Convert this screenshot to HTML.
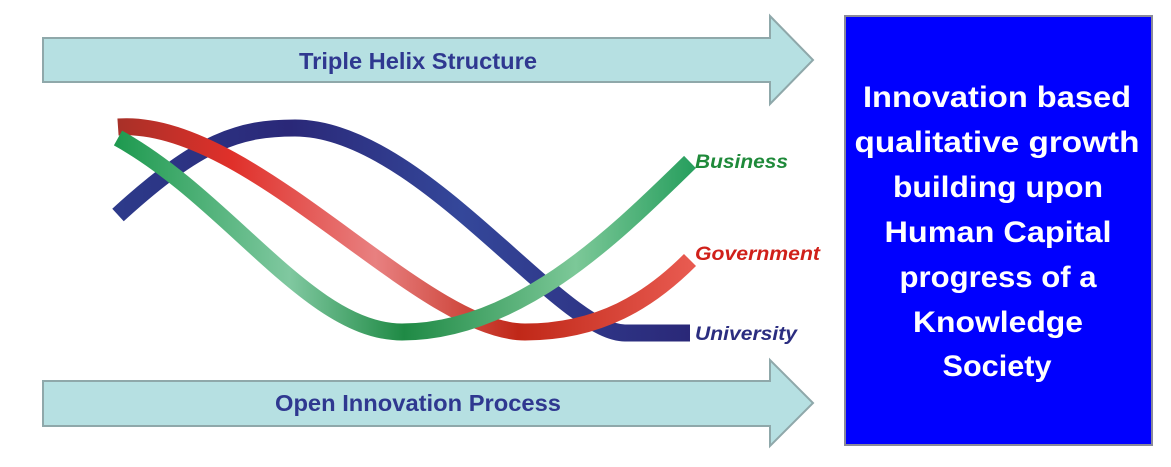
<!DOCTYPE html>
<html><head><style>
html,body{margin:0;padding:0;background:#fff;width:1171px;height:467px;overflow:hidden;font-family:"Liberation Sans",sans-serif}
</style></head><body>
<svg width="1171" height="467" viewBox="0 0 1171 467" xmlns="http://www.w3.org/2000/svg">
<defs>
<linearGradient id="gB" gradientUnits="userSpaceOnUse" x1="118" y1="0" x2="690" y2="0"><stop offset="0" stop-color="#2d3a8a"/><stop offset="0.3" stop-color="#2a2878"/><stop offset="0.6" stop-color="#34479a"/><stop offset="1" stop-color="#2a2878"/></linearGradient>
<linearGradient id="gR" gradientUnits="userSpaceOnUse" x1="118" y1="0" x2="690" y2="0"><stop offset="0" stop-color="#a83028"/><stop offset="0.2" stop-color="#e0302a"/><stop offset="0.45" stop-color="#e88080"/><stop offset="0.7" stop-color="#c02818"/><stop offset="1" stop-color="#e85a50"/></linearGradient>
<linearGradient id="gG" gradientUnits="userSpaceOnUse" x1="118" y1="0" x2="690" y2="0"><stop offset="0" stop-color="#1f9a50"/><stop offset="0.3" stop-color="#80c8a0"/><stop offset="0.5" stop-color="#1f8a45"/><stop offset="0.8" stop-color="#7cc898"/><stop offset="1" stop-color="#2aa060"/></linearGradient>
</defs>
<polygon points="43,38 770,38 770,16 813,60 770,104 770,82 43,82" fill="#b6e0e2" stroke="#8fa8aa" stroke-width="2"/>
<text x="418" y="69" text-anchor="middle" font-size="23" font-weight="bold" fill="#2f3890" textLength="238" lengthAdjust="spacingAndGlyphs">Triple Helix Structure</text>
<polygon points="43,381 770,381 770,360 813,403 770,446 770,426 43,426" fill="#b6e0e2" stroke="#8fa8aa" stroke-width="2"/>
<text x="418" y="411" text-anchor="middle" font-size="23" font-weight="bold" fill="#2f3890" textLength="286" lengthAdjust="spacingAndGlyphs">Open Innovation Process</text>
<g fill="none" stroke-width="17">
<path d="M118,215 C200,140 240,128 295,128 C420,128 560,333 625,333 L690,333" stroke="url(#gB)"/>
<path d="M118,127 C250,118 420,332 525,332 C600,332 650,300 690,260" stroke="url(#gR)"/>
<path d="M118,138 C230,200 310,332 402,332 C520,332 620,230 690,162" stroke="url(#gG)"/>
</g>
<g font-size="19" font-weight="bold" font-style="italic">
<text x="695" y="168" fill="#1f8a3a" textLength="93" lengthAdjust="spacingAndGlyphs">Business</text>
<text x="695" y="260" fill="#d0201a" textLength="125" lengthAdjust="spacingAndGlyphs">Government</text>
<text x="695" y="340" fill="#2b2d80" textLength="102" lengthAdjust="spacingAndGlyphs">University</text>
</g>
<rect x="845" y="16" width="307" height="429" fill="#0000ff" stroke="#8a8a9a" stroke-width="2"/>
<g font-size="30" font-weight="bold" fill="#fff" text-anchor="middle">
<text x="997" y="107" textLength="268" lengthAdjust="spacingAndGlyphs">Innovation based</text>
<text x="997" y="152" textLength="285" lengthAdjust="spacingAndGlyphs">qualitative growth</text>
<text x="998" y="197" textLength="210" lengthAdjust="spacingAndGlyphs">building upon</text>
<text x="998" y="242" textLength="227" lengthAdjust="spacingAndGlyphs">Human Capital</text>
<text x="998" y="287" textLength="197" lengthAdjust="spacingAndGlyphs">progress of a</text>
<text x="998" y="332" textLength="170" lengthAdjust="spacingAndGlyphs">Knowledge</text>
<text x="997" y="376" textLength="109" lengthAdjust="spacingAndGlyphs">Society</text>
</g>
</svg>
</body></html>
